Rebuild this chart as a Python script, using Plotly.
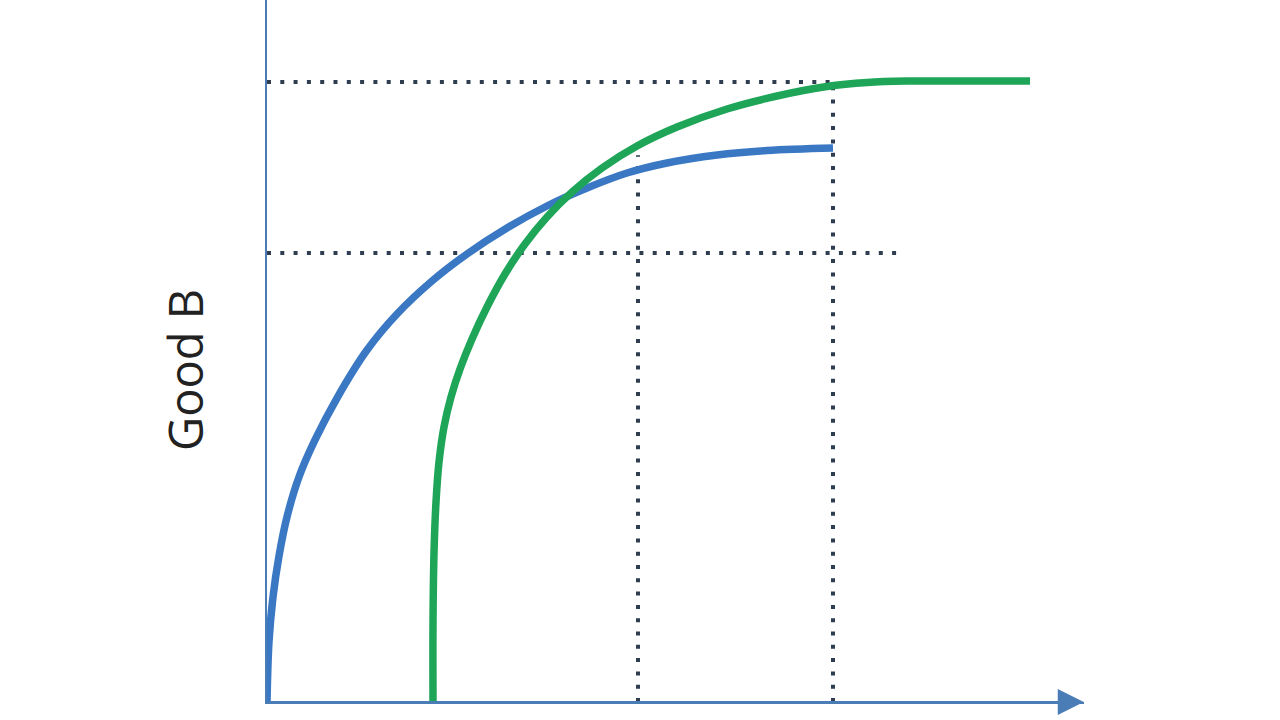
import plotly.graph_objects as go

# ---- data (units; origin at the axes corner) ----
blue_x = [0.0, 0.035, 0.106, 0.212, 0.353, 0.565, 0.848, 1.237, 1.767, 2.297,
          2.915, 3.534, 4.240, 4.947, 5.654, 6.360, 7.067, 7.951, 8.834, 10.0]
blue_y = [0.0, 0.968, 1.694, 2.355, 2.984, 3.629, 4.226, 4.903, 5.677, 6.258,
          6.790, 7.226, 7.645, 8.000, 8.290, 8.532, 8.694, 8.823, 8.895, 8.935]

green_x = [2.933, 2.933, 2.951, 2.986, 3.039, 3.127, 3.251, 3.410, 3.622, 3.887,
           4.205, 4.558, 4.947, 5.389, 5.919, 6.537, 7.244, 8.127, 9.011, 9.894,
           10.601, 11.307, 12.014, 13.481]
green_y = [0.0, 1.290, 2.419, 3.226, 3.871, 4.435, 4.919, 5.371, 5.855, 6.371,
           6.903, 7.387, 7.823, 8.226, 8.613, 8.968, 9.274, 9.565, 9.774, 9.927,
           9.992, 10.015, 10.016, 10.016]

# dotted guide lines
top_guide_x = [0.0, 10.0]
top_guide_y = [10.0, 10.0]
mid_guide_x = [0.0, 11.27]
mid_guide_y = [7.24, 7.24]
vmid_guide_x = [6.555, 6.555]
vmid_guide_y = [0.0, 8.82]
vright_guide_x = [10.0, 10.0]
vright_guide_y = [0.0, 10.0]

axis_label = "Good B"
x_axis_end = 14.43

# ---- styling ----
BLUE = "#3a78c4"
GREEN = "#1ea557"
AXIS = "#4a7cb6"
DOT = "#2e3d4f"
PX_X = 56.6
PX_Y = 62.0
LEFT, BOTTOM = 267, 18
W, H = 1280, 720
plot_w = 1084 - LEFT
plot_h = H - BOTTOM

fig = go.Figure()

dot_style = dict(color=DOT, width=4, dash="4px,9.3px")
for gx, gy in [(top_guide_x, top_guide_y), (mid_guide_x, mid_guide_y),
               (vmid_guide_x, vmid_guide_y), (vright_guide_x, vright_guide_y)]:
    fig.add_trace(go.Scatter(x=gx, y=gy, mode="lines", line=dot_style,
                             hoverinfo="skip", showlegend=False))

fig.add_trace(go.Scatter(x=blue_x, y=blue_y, mode="lines",
                         line=dict(color=BLUE, width=7.5, shape="spline", smoothing=1.0),
                         showlegend=False))
fig.add_trace(go.Scatter(x=green_x, y=green_y, mode="lines",
                         line=dict(color=GREEN, width=7.5, shape="spline", smoothing=1.0),
                         showlegend=False))

fig.add_annotation(x=x_axis_end, y=0, ax=0, ay=0, xref="x", yref="y",
                   axref="x", ayref="y", showarrow=True, arrowhead=2,
                   arrowsize=2.6, arrowwidth=2, arrowcolor=AXIS, text="")

fig.add_annotation(x=(185 - LEFT) / plot_w, y=(H - BOTTOM - 370) / plot_h,
                   xref="paper", yref="paper", text=axis_label, textangle=-90,
                   showarrow=False, xanchor="center", yanchor="middle",
                   font=dict(family="Open Sans", size=47, color="#222222"))

fig.update_xaxes(range=[0, plot_w / PX_X], showgrid=False, zeroline=False,
                 showticklabels=False, ticks="", showline=True, linecolor=AXIS,
                 linewidth=2)
fig.update_yaxes(range=[0, plot_h / PX_Y], showgrid=False, zeroline=False,
                 showticklabels=False, ticks="", showline=True, linecolor=AXIS,
                 linewidth=2)

fig.update_layout(width=W, height=H, plot_bgcolor="white", paper_bgcolor="white",
                  margin=dict(l=LEFT, r=W - 1084, t=0, b=BOTTOM, pad=0),
                  showlegend=False)

fig.write_html("out.html", config={"displayModeBar": False},
               post_script="document.body.style.margin='0';")
